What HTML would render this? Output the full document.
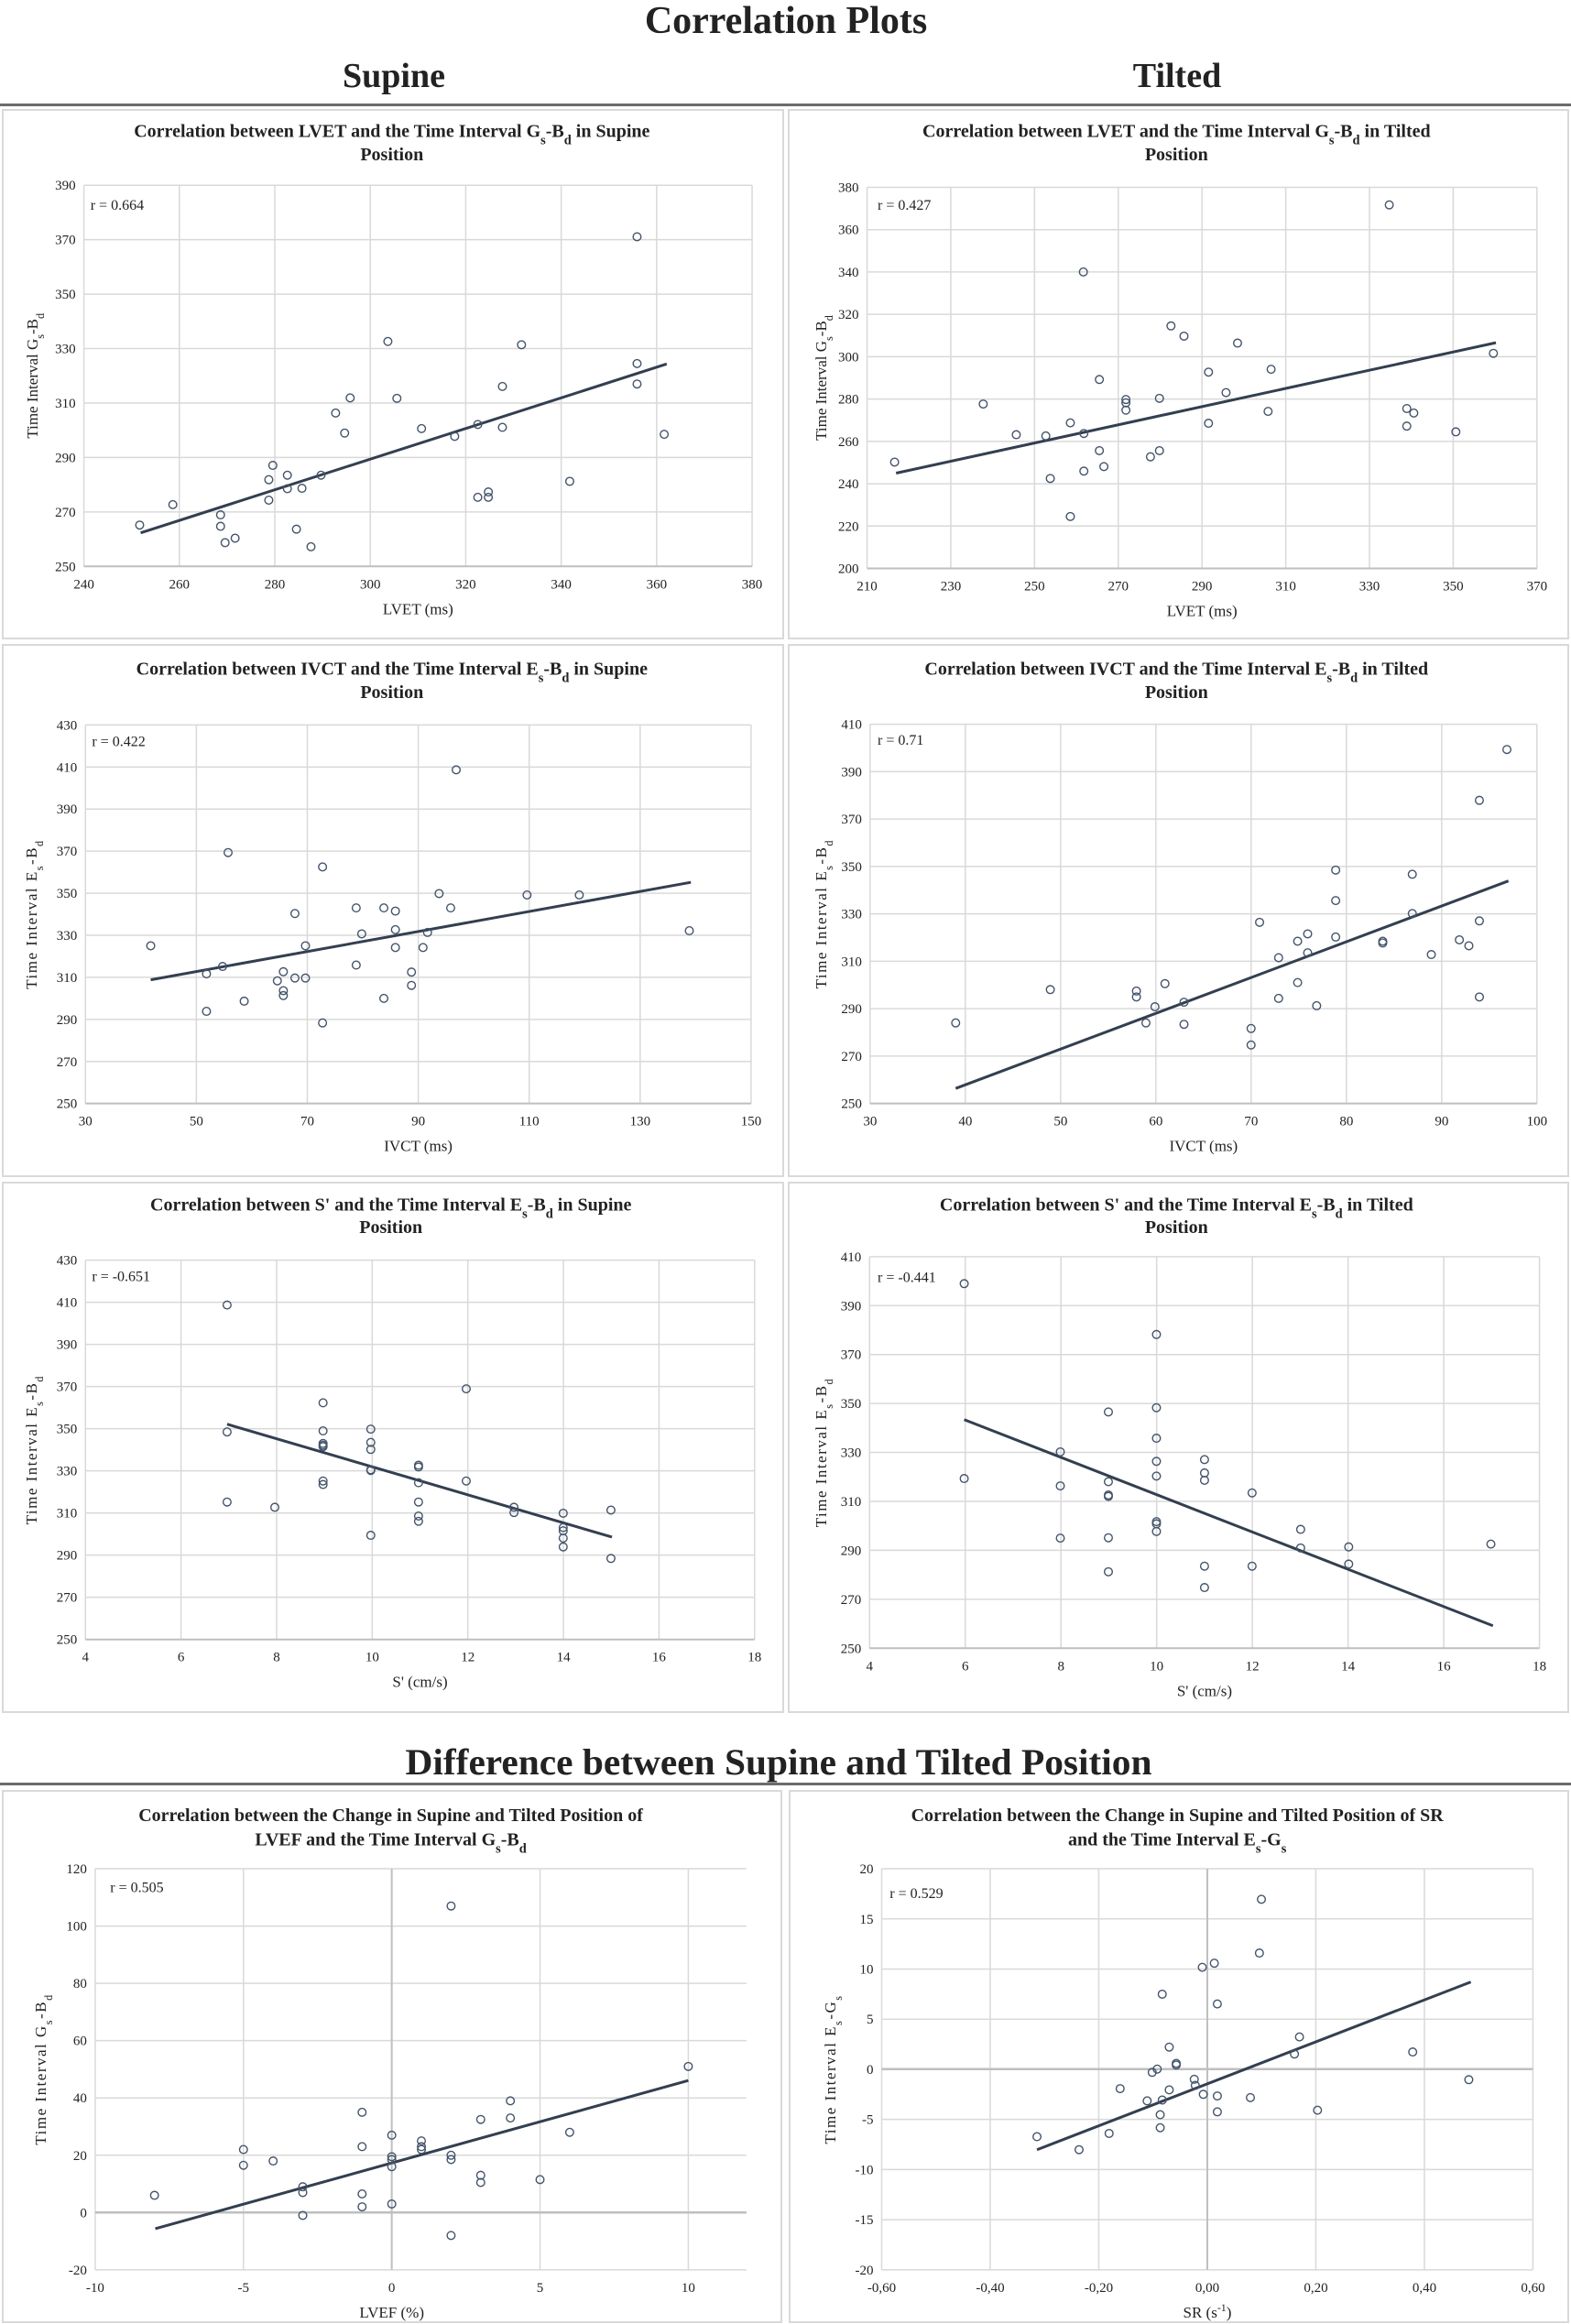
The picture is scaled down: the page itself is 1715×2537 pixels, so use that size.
<!DOCTYPE html>
<html><head><meta charset="utf-8">
<style>
html,body{margin:0;padding:0;background:#fff;}
svg{display:block;}
text{font-family:"Liberation Serif","Times New Roman",serif;fill:#222;}
</style></head>
<body>
<svg id="s" xmlns="http://www.w3.org/2000/svg" width="1715" height="2537" viewBox="0 0 1715 2537">
<rect width="1715" height="2537" fill="#fff"/>
<text x="858" y="36" font-size="42" font-weight="bold" text-anchor="middle" fill="#000">Correlation Plots</text>
<text x="430" y="95" font-size="38" font-weight="bold" text-anchor="middle" fill="#000">Supine</text>
<text x="1285" y="95" font-size="38" font-weight="bold" text-anchor="middle" fill="#000">Tilted</text>
<rect x="0" y="113" width="1715" height="3" fill="#6b6b6b"/>
<text x="850" y="1937" font-size="40" font-weight="bold" text-anchor="middle" fill="#000" textLength="815" lengthAdjust="spacingAndGlyphs">Difference between Supine and Tilted Position</text>
<rect x="0" y="1946" width="1715" height="3" fill="#6b6b6b"/>
<g id="g"></g>
</svg>
<script>
function sb(t){return t.replace(/_\{([^}]*)\}/g,'<tspan font-size="72%" baseline-shift="sub">$1</tspan>');}
var gdata=[[-8,6],[-5,22],[-5,16.5],[-4,18],[-3,9],[-3,7],[-3,-1],[-1,35],[-1,23],[-1,6.5],[-1,2],[0,27],[0,19.5],[0,18.5],[0,16],[0,3],[1,25],[1,23],[1,22],[2,107],[2,20],[2,18.5],[2,-8],[3,32.5],[3,13],[3,10.5],[4,39],[4,33],[5,11.5],[6,28],[10,51]];
var gz=gdata.map(function(d){return [95+(d[0]+10)*29.6,450+(120-d[1])*985/140];});
var P=[
{r:[0,0,860,700],box:[3,120,852,577],pl:[167,453,1497,1385],nx:7,ny:7,xl:[240,260,280,300,320,340,360,380],yl:[250,270,290,310,330,350,370,390],
 t:["Correlation between LVET and the Time Interval G_{s}-B_{d}  in Supine","Position"],tx:780,ty:[335,392],rl:[180,513,"r = 0.664"],xt:"LVET (ms)",yt:"Time Interval G_{s}-B_{d}",ylx:35,
 pts:[[278,1284],[344,1234],[439,1259],[439,1287],[448,1327],[468,1316],[535,1173],[535,1223],[543,1138],[572,1162],[572,1195],[590,1294],[601,1194],[619,1337],[639,1162],[668,1010],[686,1059],[697,973],[772,835],[790,974],[839,1048],[905,1067],[951,1038],[951,1216],[972,1203],[972,1216],[1000,945],[1000,1045],[1038,843],[1134,1177],[1268,579],[1268,889],[1268,939],[1322,1062]],tr:[280,1303,1327,890]},
{r:[858,0,857,700],box:[861,120,851,577],pl:[162,458,1500,1390],nx:8,ny:9,xl:[210,230,250,270,290,310,330,350,370],yl:[200,220,240,260,280,300,320,340,360,380],
 t:["Correlation between LVET and the Time Interval G_{s}-B_{d} in Tilted","Position"],tx:780,ty:[335,392],rl:[183,513,"r = 0.427"],xt:"LVET (ms)",yt:"Time Interval G_{s}-B_{d}",ylx:896,
 pts:[[217,1130],[394,988],[460,1063],[519,1066],[528,1170],[568,1034],[568,1263],[594,665],[595,1060],[595,1152],[626,928],[626,1102],[635,1141],[679,977],[679,985],[679,1003],[728,1117],[746,974],[746,1102],[769,797],[795,822],[844,910],[844,1035],[879,960],[902,839],[963,1006],[969,903],[1205,501],[1240,999],[1240,1042],[1254,1010],[1338,1056],[1413,864]],tr:[220,1157,1418,838]},
{r:[0,690,860,600],box:[3,704,852,580],pl:[170,265,1495,1345],nx:6,ny:9,xl:[30,50,70,90,110,130,150],yl:[250,270,290,310,330,350,370,390,410,430],
 t:["Correlation between IVCT and the Time Interval E_{s}-B_{d} in Supine","Position"],tx:780,ty:[122,188],rl:[183,325,"r = 0.422"],xt:"IVCT (ms)",yt:"Time Interval E_{s}-B_{d}",ylx:34,sp:1,
 pts:[[300,895],[411,975],[411,1082],[443,954],[454,629],[486,1053],[552,995],[564,969],[564,1023],[564,1037],[587,803],[587,987],[608,895],[608,987],[642,670],[642,1115],[709,787],[709,950],[720,861],[764,787],[764,1045],[787,796],[787,849],[787,900],[819,970],[819,1008],[842,900],[851,857],[874,746],[897,787],[908,393],[1049,750],[1153,750],[1372,852]],tr:[300,992,1375,714]},
{r:[858,690,857,600],box:[861,704,851,580],pl:[168,263,1500,1345],nx:7,ny:8,xl:[30,40,50,60,70,80,90,100],yl:[250,270,290,310,330,350,370,390,410],
 t:["Correlation between IVCT and the Time Interval E_{s}-B_{d} in Tilted","Position"],tx:780,ty:[122,188],rl:[183,322,"r = 0.71"],xt:"IVCT (ms)",yt:"Time Interval E_{s}-B_{d}",ylx:896,sp:1,
 pts:[[339,1115],[528,1020],[700,1024],[700,1041],[719,1115],[737,1069],[757,1003],[795,1056],[795,1119],[929,1131],[929,1178],[946,828],[984,929],[984,1045],[1022,882],[1022,1000],[1042,861],[1042,915],[1060,1066],[1098,679],[1098,766],[1098,870],[1192,882],[1192,887],[1251,691],[1251,803],[1289,920],[1345,878],[1364,895],[1385,480],[1385,824],[1385,1041],[1440,335]],tr:[339,1302,1443,710]},
{r:[0,1280,860,600],box:[3,1291,852,578],pl:[170,250,1502,1332],nx:7,ny:9,xl:[4,6,8,10,12,14,16,18],yl:[250,270,290,310,330,350,370,390,410,430],
 t:["Correlation between S' and the Time Interval E_{s}-B_{d} in Supine","Position"],tx:778,ty:[108,172],rl:[183,310,"r = -0.651"],xt:"S' (cm/s)",yt:"Time Interval E_{s}-B_{d}",ylx:34,sp:1,
 pts:[[452,378],[452,740],[452,940],[547,955],[643,657],[643,737],[643,773],[643,778],[643,782],[643,880],[643,890],[738,732],[738,770],[738,790],[738,848],[738,850],[738,1035],[833,835],[833,840],[833,885],[833,940],[833,980],[833,995],[928,617],[928,880],[1023,955],[1023,970],[1121,972],[1121,1013],[1121,1022],[1121,1043],[1121,1068],[1216,963],[1216,1101]],tr:[452,718,1218,1040]},
{r:[858,1280,857,600],box:[861,1291,851,578],pl:[167,240,1505,1357],nx:7,ny:8,xl:[4,6,8,10,12,14,16,18],yl:[250,270,290,310,330,350,370,390,410],
 t:["Correlation between S' and the Time Interval E_{s}-B_{d} in Tilted","Position"],tx:780,ty:[108,172],rl:[183,312,"r = -0.441"],xt:"S' (cm/s)",yt:"Time Interval E_{s}-B_{d}",ylx:896,sp:1,
 pts:[[356,317],[356,873],[548,797],[548,894],[548,1043],[644,683],[644,882],[644,920],[644,924],[644,1042],[644,1139],[740,462],[740,671],[740,758],[740,824],[740,866],[740,996],[740,1002],[740,1024],[836,819],[836,857],[836,878],[836,1123],[836,1184],[931,914],[931,1123],[1028,1018],[1028,1071],[1124,1068],[1124,1117],[1408,1060]],tr:[356,705,1412,1293]},
{r:[0,1840,1715,697],box:[3,1955,850,580],pl:[95,450,687,1435],xr:745,nx:4,ny:7,xl:[-10,-5,0,5,10],yl:[-20,0,20,40,60,80,100,120],
 t:["Correlation between the Change in Supine and Tilted Position of","LVEF and the Time Interval G_{s}-B_{d}"],tx:390,ty:[333,393],rl:[110,507,"r = 0.505"],xt:"LVEF (%)",yt:"Time Interval G_{s}-B_{d}",ylx:44,sp:1,zx:391,zy:1294,
 pts:gz,tr:[155,1334,687,970]},
{r:[0,1840,1715,697],box:[862,1955,850,580],pl:[880,450,1530,1435],nx:6,ny:8,xl:["-0,60","-0,40","-0,20","0,00","0,20","0,40","0,60"],yl:[-20,-15,-10,-5,0,5,10,15,20],
 t:["Correlation between the Change in Supine and Tilted Position of SR","and the Time Interval E_{s}-G_{s}"],tx:1175,ty:[333,393],rl:[888,522,"r = 0.529"],xt:"SR (s<tspan font-size='70%' baseline-shift='super'>-1</tspan>)",yt:"Time Interval E_{s}-G_{s}",ylx:906,sp:1,zx:1205,zy:942,
 pts:[[1035,1108],[1077,1140],[1107,1100],[1118,990],[1145,1020],[1150,950],[1155,942],[1160,758],[1160,1018],[1158,1054],[1158,1086],[1167,888],[1167,993],[1174,928],[1174,932],[1192,967],[1193,982],[1200,692],[1201,1004],[1212,682],[1215,782],[1215,1008],[1215,1047],[1248,1012],[1257,657],[1259,525],[1292,905],[1297,863],[1315,1043],[1410,900],[1466,968]],tr:[1035,1140,1468,728]}
];
var h='';
P.forEach(function(p){
 var sx=p.r[2]/1568,sy=p.r[3]/1568;
 function X(z){return +(p.r[0]+z*sx).toFixed(2);} function Y(z){return +(p.r[1]+z*sy).toFixed(2);}
 var b=p.box;
 h+='<rect x="'+b[0]+'" y="'+b[1]+'" width="'+b[2]+'" height="'+b[3]+'" fill="#fff" stroke="#d9d9d9" stroke-width="2"/>';
 var x0=X(p.pl[0]),y0=Y(p.pl[1]),x1=X(p.pl[2]),y1=Y(p.pl[3]);
 var xr=p.xr?X(p.xr):x1;
 for(var i=0;i<=p.nx;i++){var x=x0+(x1-x0)*i/p.nx;
   h+='<line x1="'+x+'" y1="'+y0+'" x2="'+x+'" y2="'+y1+'" stroke="#d9d9d9" stroke-width="1.5"/>';
   h+='<text x="'+x+'" y="'+(y1+24)+'" font-size="15" text-anchor="middle">'+p.xl[i]+'</text>';}
 for(var j=0;j<=p.ny;j++){var y=y1-(y1-y0)*j/p.ny;
   h+='<line x1="'+x0+'" y1="'+y+'" x2="'+xr+'" y2="'+y+'" stroke="#d9d9d9" stroke-width="1.5"/>';
   h+='<text x="'+(x0-9)+'" y="'+(y+5)+'" font-size="15" text-anchor="end">'+p.yl[j]+'</text>';}
 if(p.zx){h+='<line x1="'+X(p.zx)+'" y1="'+y0+'" x2="'+X(p.zx)+'" y2="'+y1+'" stroke="#bfbfbf" stroke-width="2"/>';
   h+='<line x1="'+x0+'" y1="'+Y(p.zy)+'" x2="'+xr+'" y2="'+Y(p.zy)+'" stroke="#bfbfbf" stroke-width="2.5"/>';}
 else{h+='<line x1="'+x0+'" y1="'+y1+'" x2="'+x1+'" y2="'+y1+'" stroke="#bfbfbf" stroke-width="2"/>';}
 h+='<text x="'+X(p.tx)+'" y="'+Y(p.ty[0])+'" font-size="20" font-weight="bold" text-anchor="middle">'+sb(p.t[0])+'</text>';
 h+='<text x="'+X(p.tx)+'" y="'+Y(p.ty[1])+'" font-size="20" font-weight="bold" text-anchor="middle">'+sb(p.t[1])+'</text>';
 h+='<text x="'+X(p.rl[0])+'" y="'+Y(p.rl[1])+'" font-size="16">'+p.rl[2]+'</text>';
 h+='<text x="'+((x0+x1)/2)+'" y="'+(y1+52)+'" font-size="17" text-anchor="middle">'+p.xt+'</text>';
 var cx=p.ylx, cy=(y0+y1)/2;
 h+='<text transform="translate('+cx+','+cy+') rotate(-90)" x="0" y="6" font-size="17" text-anchor="middle"'+(p.sp?' letter-spacing="1.5"':'')+'>'+sb(p.yt)+'</text>';
 var t=p.tr;
 h+='<line x1="'+X(t[0])+'" y1="'+Y(t[1])+'" x2="'+X(t[2])+'" y2="'+Y(t[3])+'" stroke="#333f50" stroke-width="3"/>';
 p.pts.forEach(function(q){h+='<circle cx="'+X(q[0])+'" cy="'+Y(q[1])+'" r="4.3" fill="none" stroke="#44546a" stroke-width="1.4"/>';});
});
document.getElementById('g').innerHTML=h;
</script>
</body></html>
